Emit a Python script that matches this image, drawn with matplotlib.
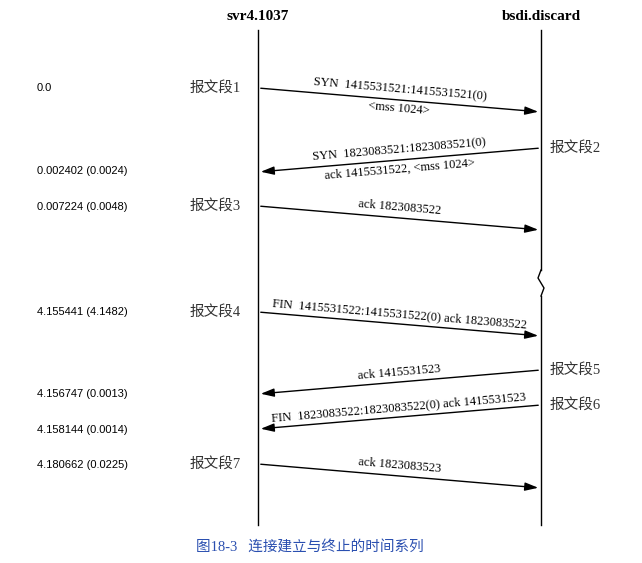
import matplotlib
matplotlib.use("Agg")
import matplotlib.pyplot as plt
import numpy as np

hosts = ["svr4.1037", "bsdi.discard"]
times = ["0.0", "0.002402 (0.0024)", "0.007224 (0.0048)", "4.155441 (4.1482)",
         "4.156747 (0.0013)", "4.158144 (0.0014)", "4.180662 (0.0225)"]
segments = ["报文段1", "报文段2", "报文段3", "报文段4", "报文段5", "报文段6", "报文段7"]
directions = ["R", "L", "R", "R", "L", "L", "R"]
above = ["SYN  1415531521:1415531521(0)", "SYN  1823083521:1823083521(0)", "ack 1823083522",
         "FIN  1415531522:1415531522(0) ack 1823083522", "ack 1415531523",
         "FIN  1823083522:1823083522(0) ack 1415531523", "ack 1823083523"]
below = ["<mss 1024>", "ack 1415531522, <mss 1024>", "", "", "", "", ""]
caption = "图18-3   连接建立与终止的时间系列"

# layout (pixels)
start_y = [88, 148, 206, 312, 370, 405, 464]
time_y = [88, 171, 207, 312, 394, 430, 465]
XL, XR, DY = 258, 541, 24

fam = ["Liberation Serif", "Noto Sans CJK SC"]
fig = plt.figure(figsize=(6.42, 5.63), dpi=100)
ax = fig.add_axes([0, 0, 1, 1])
ax.set_xlim(0, 642); ax.set_ylim(563, 0); ax.axis("off")

ax.plot([XL, XL], [30, 525], color="black", lw=1)
ax.plot([XR, XR], [30, 270], color="black", lw=1)
ax.plot([XR, XR - 3, XR + 3, XR], [270, 278, 288, 296], color="black", lw=1)
ax.plot([XR, XR], [296, 525], color="black", lw=1)

ax.text(XL, 17, hosts[0], ha="center", va="center", fontsize=11, fontweight="bold", family=fam)
ax.text(XR, 17, hosts[1], ha="center", va="center", fontsize=11, fontweight="bold", family=fam)

base = np.degrees(np.arctan2(DY, XR - XL))
for i in range(len(times)):
    y0 = start_y[i]
    if directions[i] == "R":
        x0, x1 = XL, XR
        ang = -base
        ax.text(190, y0, segments[i], ha="left", va="center", fontsize=10.5, color="#333", family=fam)
    else:
        x0, x1 = XR, XL
        ang = base
        ax.text(550, y0, segments[i], ha="left", va="center", fontsize=10.5, color="#333", family=fam)
    ax.annotate("", xy=(x1, y0 + DY), xytext=(x0, y0),
                arrowprops=dict(arrowstyle="-|>,head_length=0.8,head_width=0.25", color="black", lw=1))
    ax.text(37, time_y[i], times[i], ha="left", va="center", fontsize=8,
            family=["Liberation Sans"])
    mx, my = (XL + XR) / 2, y0 + DY / 2
    ax.text(mx, my - 4, above[i], ha="center", va="bottom", fontsize=9, rotation=ang,
            rotation_mode="anchor", family=fam)
    if below[i]:
        ax.text(mx, my + 3, below[i], ha="center", va="top", fontsize=9, rotation=ang,
                rotation_mode="anchor", family=fam)

ax.text(310, 548, caption, ha="center", va="center", fontsize=10.5, color="#2a4fb0", family=fam)
fig.savefig("out.png", dpi=100)
